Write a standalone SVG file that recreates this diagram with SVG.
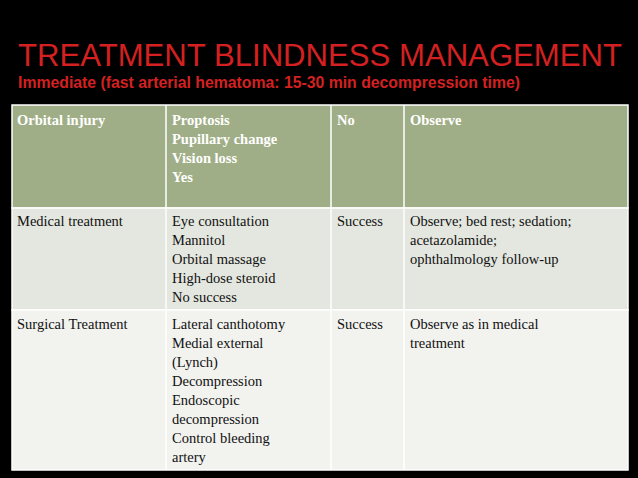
<svg xmlns="http://www.w3.org/2000/svg" width="638" height="478" viewBox="0 0 638 478">
<style>
.t{font-family:"Liberation Serif","DejaVu Serif",serif;font-size:14.5px;fill:#111}
.h{font-family:"Liberation Serif","DejaVu Serif",serif;font-size:14.5px;fill:#fff;font-weight:bold}
.ti{font-family:"Liberation Sans",sans-serif;fill:#d42020}
</style>
<rect width="638" height="478" fill="#000"/>
<g id="title">
<text class="ti" x="18" y="66" font-size="31" textLength="604" lengthAdjust="spacingAndGlyphs">TREATMENT BLINDNESS MANAGEMENT</text>
<text class="ti" x="18" y="88" font-size="17" font-weight="bold" textLength="502" lengthAdjust="spacingAndGlyphs">Immediate (fast arterial hematoma: 15-30 min decompression time)</text>
</g>
<g id="table" stroke="#fff" stroke-width="1.5">
<rect x="12" y="105" width="616" height="103" fill="#9fae86"/>
<rect x="12" y="208" width="616" height="102" fill="#e4e7df"/>
<rect x="12" y="310" width="616" height="160" fill="#f2f3ef"/>
<line x1="166" y1="105" x2="166" y2="470"/>
<line x1="331" y1="105" x2="331" y2="470"/>
<line x1="404" y1="105" x2="404" y2="470"/>
</g>
<g id="header">
<text class="h" x="17" y="125">Orbital injury</text>
<text class="h" x="172" y="125">Proptosis</text>
<text class="h" x="172" y="144">Pupillary change</text>
<text class="h" x="172" y="163">Vision loss</text>
<text class="h" x="172" y="182">Yes</text>
<text class="h" x="337" y="125">No</text>
<text class="h" x="410" y="125">Observe</text>
</g>
<g id="row2">
<text class="t" x="17" y="226">Medical treatment</text>
<text class="t" x="172" y="226">Eye consultation</text>
<text class="t" x="172" y="245">Mannitol</text>
<text class="t" x="172" y="264">Orbital massage</text>
<text class="t" x="172" y="283">High-dose steroid</text>
<text class="t" x="172" y="302">No success</text>
<text class="t" x="337" y="226">Success</text>
<text class="t" x="410" y="226">Observe; bed rest; sedation;</text>
<text class="t" x="410" y="245">acetazolamide;</text>
<text class="t" x="410" y="264">ophthalmology follow-up</text>
</g>
<g id="row3">
<text class="t" x="17" y="329">Surgical Treatment</text>
<text class="t" x="172" y="329">Lateral canthotomy</text>
<text class="t" x="172" y="348">Medial external</text>
<text class="t" x="172" y="367">(Lynch)</text>
<text class="t" x="172" y="386">Decompression</text>
<text class="t" x="172" y="405">Endoscopic</text>
<text class="t" x="172" y="424">decompression</text>
<text class="t" x="172" y="443">Control bleeding</text>
<text class="t" x="172" y="462">artery</text>
<text class="t" x="337" y="329">Success</text>
<text class="t" x="410" y="329">Observe as in medical</text>
<text class="t" x="410" y="348">treatment</text>
</g>
</svg>
